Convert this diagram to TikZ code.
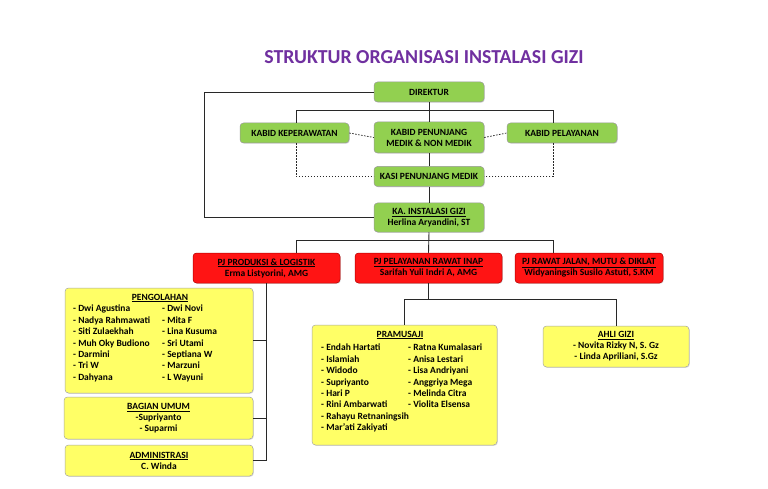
\documentclass[tikz,border=0pt]{standalone}
\usepackage{fontspec}
\setmainfont{Carlito}
\usetikzlibrary{shadows}
\definecolor{gbox}{RGB}{146,208,80}
\definecolor{rbox}{RGB}{255,20,20}
\definecolor{ybox}{RGB}{255,255,102}
\definecolor{tpurple}{RGB}{112,48,160}
\definecolor{lncol}{RGB}{40,40,40}
\tikzset{
  box/.style={rounded corners=3.5pt, draw=black!40, line width=0.5pt, inner sep=0pt, align=center,
    font=\fontsize{9.5}{11}\selectfont\bfseries,
    drop shadow={opacity=0.25, shadow xshift=0.8pt, shadow yshift=-0.8pt}},
  gbx/.style={box, fill=gbox},
  rbx/.style={box, fill=rbox, draw=red!70!black},
  ybx/.style={box, fill=ybox, draw=black!35},
  lst/.style={anchor=north west, inner sep=0pt, align=left, font=\fontsize{9.5}{11.4}\selectfont\bfseries},
  hd/.style={inner sep=0pt, font=\fontsize{9.5}{11}\selectfont\bfseries},
  conn/.style={draw=lncol, line width=0.9pt},
  dotl/.style={draw=lncol, line width=0.7pt, dash pattern=on 1.6pt off 1.4pt}
}
\begin{document}
\begin{tikzpicture}[x=1pt,y=-1pt]
\useasboundingbox (0,0) rectangle (768,489);
\fill[white] (0,0) rectangle (768,489);
% title
\node[inner sep=0pt, font=\fontsize{19.8}{22}\selectfont\bfseries, text=tpurple] (title) at (424,57) {STRUKTUR ORGANISASI INSTALASI GIZI};
% coordinates for connector routing
\coordinate (hL) at (296,110);
\coordinate (hR) at (553,110);
\coordinate (bl) at (204,0);
\coordinate (h2) at (0,240);
\coordinate (h3) at (0,299);
% green boxes
\node[gbx, minimum width=110pt, minimum height=20pt] (dir) at (429,92) {DIREKTUR};
\node[gbx, minimum width=109pt, minimum height=20pt] (kkep) at (294.5,133) {KABID KEPERAWATAN};
\node[gbx, minimum width=110pt, minimum height=31pt] (kpen) at (429,137.5) {KABID PENUNJANG\\MEDIK \& NON MEDIK};
\node[gbx, minimum width=110pt, minimum height=20pt] (kpel) at (562,133) {KABID PELAYANAN};
\node[gbx, minimum width=110pt, minimum height=20pt] (kasi) at (429,176.5) {KASI PENUNJANG MEDIK};
\node[gbx, minimum width=110pt, minimum height=29pt] (ka) at (429,217.5) {\underline{KA. INSTALASI GIZI}\\Herlina Aryandini, ST};
% red boxes
\node[rbx, minimum width=147pt, minimum height=30pt] (pj1) at (266.5,268) {\underline{PJ PRODUKSI \& LOGISTIK}\\Erma Listyorini, AMG};
\node[rbx, minimum width=147pt, minimum height=30pt] (pj2) at (428.5,268) {\underline{PJ PELAYANAN RAWAT INAP}\\Sarifah Yuli Indri A, AMG};
\node[rbx, minimum width=148pt, minimum height=30pt] (pj3) at (589,268) {\underline{PJ RAWAT JALAN, MUTU \& DIKLAT}\\Widyaningsih Susilo Astuti, S.KM};
% yellow boxes
\node[ybx, minimum width=188pt, minimum height=105pt] (peng) at (159,340.5) {};
\node[hd] (pengH) at (160,298) {\underline{PENGOLAHAN}};
\node[lst] (pengL) at (73,305) {- Dwi Agustina\\- Nadya Rahmawati\\- Siti Zulaekhah\\- Muh Oky Budiono\\- Darmini\\- Tri W\\- Dahyana};
\node[lst] (pengR) at (162,305) {- Dwi Novi\\- Mita F\\- Lina Kusuma\\- Sri Utami\\- Septiana W\\- Marzuni\\- L Wayuni};
\node[ybx, minimum width=189pt, minimum height=42pt] (umum) at (158.5,418) {\underline{BAGIAN UMUM}\\-Supriyanto\\- Suparmi};
\node[ybx, minimum width=188pt, minimum height=31pt] (adm) at (159,460.5) {\underline{ADMINISTRASI}\\C. Winda};
\node[ybx, minimum width=185pt, minimum height=120pt] (pram) at (404.5,385) {};
\node[hd] (pramH) at (400,335) {\underline{PRAMUSAJI}};
\node[lst] (pramL) at (321,344) {- Endah Hartati\\- Islamiah\\- Widodo\\- Supriyanto\\- Hari P\\- Rini Ambarwati\\- Rahayu Retnaningsih\\- Mar'ati Zakiyati};
\node[lst] (pramR) at (408,344) {- Ratna Kumalasari\\- Anisa Lestari\\- Lisa Andriyani\\- Anggriya Mega\\- Melinda Citra\\- Violita Elsensa};
\node[ybx, minimum width=146pt, minimum height=41pt] (ahli) at (616,346.5) {\underline{AHLI GIZI}\\- Novita Rizky N, S. Gz\\- Linda Apriliani, S.Gz};
% solid connectors
\draw[conn] (dir.south) -- (kpen.north);
\draw[conn] (kpen.south) -- (kasi.north);
\draw[conn] (kasi.south) -- (ka.north);
\draw[conn] (hL |- kkep.north) -- (hL) -- (hR) -- (hR |- kpel.north);
\draw[conn] (dir.west) -- (dir.west -| bl) -- (bl |- ka.west) -- (ka.west);
\draw[conn] (ka.south) -- (pj2.north);
\draw[conn] (hL |- pj1.north) -- (hL |- h2) -- (hR |- h2) -- (hR |- pj3.north);
\draw[conn] (pj1.south) -- (pj1.south |- adm.east) -- (adm.east);
\draw[conn] (peng.east) -- (peng.east -| pj1.south);
\draw[conn] (umum.east) -- (umum.east -| pj1.south);
\draw[conn] (pj2.south) -- (pj2.south |- h3);
\draw[conn] (pram.north) -- (pram.north |- h3) -- (ahli.north |- h3) -- (ahli.north);
% dotted connectors
\draw[dotl] (kkep.east) -- (kpen.west);
\draw[dotl] (kpen.east) -- (kpel.west);
\draw[dotl] (hL |- kkep.south) -- (hL |- kasi.west) -- (kasi.west);
\draw[dotl] (hR |- kpel.south) -- (hR |- kasi.east) -- (kasi.east);
\end{tikzpicture}
\end{document}
